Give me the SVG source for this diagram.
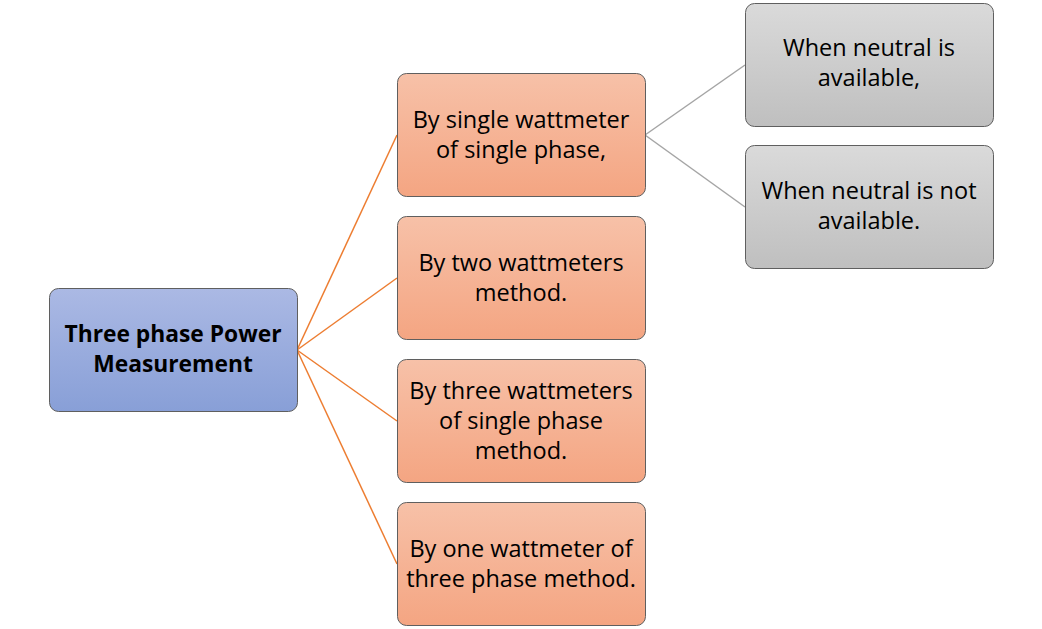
<svg xmlns="http://www.w3.org/2000/svg" width="1042" height="629" viewBox="0 0 1042 629">
<defs>
<linearGradient id="gBlue" x1="0" y1="0" x2="0" y2="1"><stop offset="0" stop-color="#abb9e4"/><stop offset="1" stop-color="#889fd7"/></linearGradient>
<linearGradient id="gOr" x1="0" y1="0" x2="0" y2="1"><stop offset="0" stop-color="#f7c1a8"/><stop offset="1" stop-color="#f4a582"/></linearGradient>
<linearGradient id="gGr" x1="0" y1="0" x2="0" y2="1"><stop offset="0" stop-color="#dadada"/><stop offset="1" stop-color="#bfbfbf"/></linearGradient>
</defs>
<style>
.box{stroke:#5f5f5f;stroke-width:1}
.t{font-family:"Open Sans","Liberation Sans",sans-serif;font-size:23.5px;fill:#000;text-anchor:middle}
.b{font-weight:bold;font-size:22.8px}
.co{stroke:#ed7d31;stroke-width:1.5;fill:none}
.cg{stroke:#a5a5a5;stroke-width:1.5;fill:none}
</style>
<rect width="1042" height="629" fill="#fff"/>
<g id="connectors">
<line class="co" x1="297" y1="350" x2="397" y2="135"/>
<line class="co" x1="297" y1="350" x2="397" y2="278"/>
<line class="co" x1="297" y1="350" x2="397" y2="421"/>
<line class="co" x1="297" y1="350" x2="397" y2="564"/>
<line class="cg" x1="645" y1="135" x2="745" y2="65"/>
<line class="cg" x1="645" y1="135" x2="745" y2="207"/>
</g>
<g id="root">
<rect class="box" x="49.5" y="288.5" width="248" height="123" rx="9" fill="url(#gBlue)"/>
<text class="t b" x="173" y="342">Three phase Power</text>
<text class="t b" x="173" y="372">Measurement</text>
</g>
<g id="n1">
<rect class="box" x="397.5" y="73.5" width="248" height="123" rx="9" fill="url(#gOr)"/>
<text class="t" x="521" y="128">By single wattmeter</text>
<text class="t" x="521" y="158">of single phase,</text>
</g>
<g id="n2">
<rect class="box" x="397.5" y="216.5" width="248" height="123" rx="9" fill="url(#gOr)"/>
<text class="t" x="521" y="271">By two wattmeters</text>
<text class="t" x="521" y="301">method.</text>
</g>
<g id="n3">
<rect class="box" x="397.5" y="359.5" width="248" height="123" rx="9" fill="url(#gOr)"/>
<text class="t" x="521" y="399">By three wattmeters</text>
<text class="t" x="521" y="429">of single phase</text>
<text class="t" x="521" y="459">method.</text>
</g>
<g id="n4">
<rect class="box" x="397.5" y="502.5" width="248" height="123" rx="9" fill="url(#gOr)"/>
<text class="t" x="521" y="557">By one wattmeter of</text>
<text class="t" x="521" y="587">three phase method.</text>
</g>
<g id="g1">
<rect class="box" x="745.5" y="3.5" width="248" height="123" rx="9" fill="url(#gGr)"/>
<text class="t" x="869" y="56">When neutral is</text>
<text class="t" x="869" y="86">available,</text>
</g>
<g id="g2">
<rect class="box" x="745.5" y="145.5" width="248" height="123" rx="9" fill="url(#gGr)"/>
<text class="t" x="869" y="199">When neutral is not</text>
<text class="t" x="869" y="229">available.</text>
</g>
</svg>
